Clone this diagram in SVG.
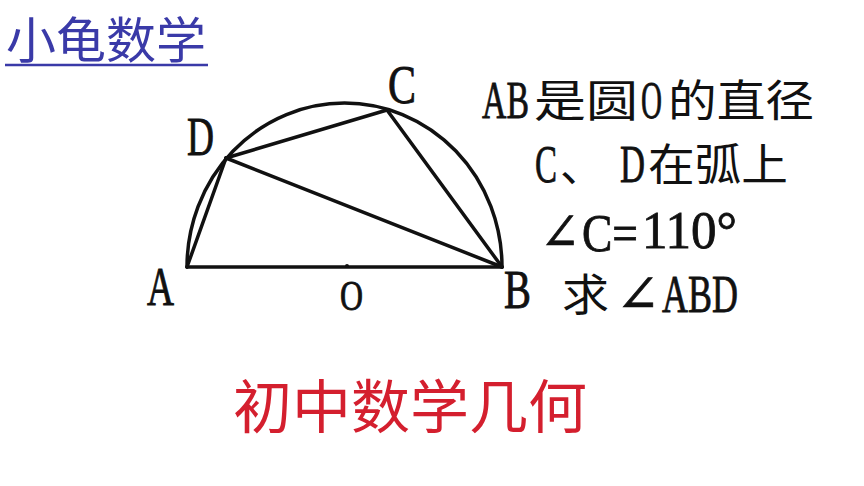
<svg xmlns="http://www.w3.org/2000/svg" width="864" height="486" viewBox="0 0 864 486">
<style>
.lbl{font-family:"Liberation Serif","Noto Sans CJK SC",serif;font-size:54px;fill:#111;stroke:#111;stroke-width:0.9}
.txt{font-family:"Noto Sans CJK SC",sans-serif;font-size:44px;fill:#111}
.lat{font-family:"Liberation Serif","DejaVu Serif",serif;font-size:52px;stroke:#111;stroke-width:0.8}
.seg{stroke:#111;stroke-width:3.5;fill:none;stroke-linecap:round;stroke-linejoin:round}
.title{font-family:"Noto Sans CJK SC",sans-serif;font-size:49px;fill:#3a3aa8}
.red{font-family:"Noto Sans CJK SC",sans-serif;font-size:58px;fill:#d41f2e}
</style>
<rect width="864" height="486" fill="#ffffff"/>
<g id="title">
<text class="title" x="6" y="58" textLength="200" lengthAdjust="spacingAndGlyphs">小龟数学</text>
<line x1="5" y1="65" x2="208" y2="65" stroke="#3a3aa8" stroke-width="2.5"/>
</g>
<g id="connectors">
<path class="seg" d="M187,267 A157.5,164 0 0 1 502,267"/>
<line class="seg" x1="187" y1="267" x2="502" y2="267"/>
<line class="seg" x1="187" y1="267" x2="226" y2="158"/>
<line class="seg" x1="226" y1="158" x2="387" y2="110"/>
<line class="seg" x1="387" y1="110" x2="502" y2="267"/>
<line class="seg" x1="226" y1="158" x2="502" y2="267"/>
</g>
<g id="node-A"><text class="lbl" x="147" y="305" textLength="27" lengthAdjust="spacingAndGlyphs">A</text></g>
<g id="node-B"><text class="lbl" x="504" y="308" textLength="27" lengthAdjust="spacingAndGlyphs">B</text></g>
<g id="node-C"><text class="lbl" x="388" y="103" textLength="28" lengthAdjust="spacingAndGlyphs">C</text></g>
<g id="node-D"><text class="lbl" x="187" y="155" textLength="27" lengthAdjust="spacingAndGlyphs">D</text></g>
<g id="node-O">
<circle cx="347" cy="266" r="2" fill="#111"/>
<text class="lbl" x="340" y="310" style="font-size:42px" textLength="23" lengthAdjust="spacingAndGlyphs">O</text>
</g>
<g id="problem">
<text class="txt" y="117"><tspan class="lat" x="482" y="118" textLength="47" lengthAdjust="spacingAndGlyphs">AB</tspan><tspan x="534" y="117" textLength="104" lengthAdjust="spacingAndGlyphs">是圆</tspan><tspan class="lat" x="641" y="118" textLength="21" lengthAdjust="spacingAndGlyphs">O</tspan><tspan x="668" y="117" textLength="146" lengthAdjust="spacingAndGlyphs">的直径</tspan></text>
<text class="txt" y="182"><tspan class="lat" x="535" textLength="22" lengthAdjust="spacingAndGlyphs">C</tspan><tspan x="560">、</tspan><tspan class="lat" x="620" textLength="25" lengthAdjust="spacingAndGlyphs">D</tspan><tspan x="648" y="181" textLength="140" lengthAdjust="spacingAndGlyphs">在弧上</tspan></text>
<text class="txt lat" y="250"><tspan x="540" textLength="40" lengthAdjust="spacingAndGlyphs">∠</tspan><tspan x="582" y="251" textLength="56" lengthAdjust="spacingAndGlyphs">C=</tspan><tspan x="642" y="248" textLength="95" lengthAdjust="spacingAndGlyphs">110°</tspan></text>
<text class="txt" y="312"><tspan x="562" y="311" textLength="47" lengthAdjust="spacingAndGlyphs">求</tspan><tspan class="lat" x="616" y="312" textLength="44" lengthAdjust="spacingAndGlyphs">∠</tspan><tspan class="lat" x="662" y="312" textLength="76" lengthAdjust="spacingAndGlyphs">ABD</tspan></text>
</g>
<g id="subtitle">
<text class="red" x="233" y="428" textLength="354" lengthAdjust="spacingAndGlyphs">初中数学几何</text>
</g>
</svg>
